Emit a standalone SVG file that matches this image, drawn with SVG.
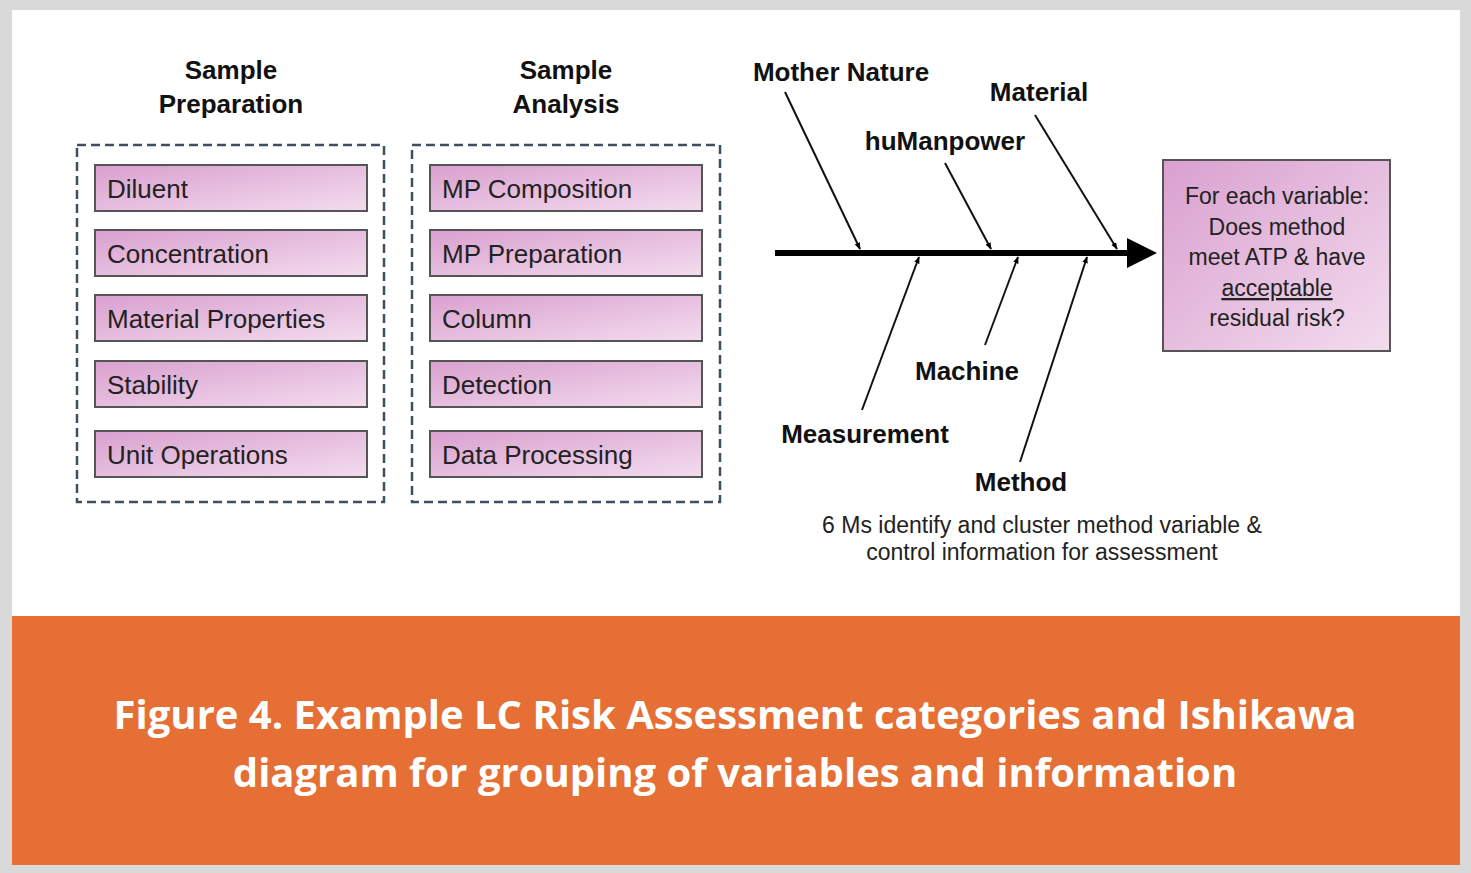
<svg xmlns="http://www.w3.org/2000/svg" width="1471" height="873" viewBox="0 0 1471 873">
<defs>
<linearGradient id="pg" x1="0" y1="0" x2="1" y2="1">
<stop offset="0" stop-color="#d9a0cf"/><stop offset="1" stop-color="#f3dcee"/>
</linearGradient>
<marker id="ah" viewBox="0 0 10 10" refX="9" refY="5" markerWidth="7" markerHeight="7" orient="auto" markerUnits="userSpaceOnUse">
<path d="M0,1 L10,5 L0,9 z" fill="#000"/>
</marker>
<style>
.box{fill:url(#pg);stroke:#555;stroke-width:2}
.dash{fill:none;stroke:#3f4f5f;stroke-width:2.5;stroke-dasharray:9,5}
.t{font-family:"Liberation Sans",Arial,sans-serif;font-size:26px;fill:#222}
.h{font-family:"Liberation Sans",Arial,sans-serif;font-size:26px;font-weight:bold;fill:#111;text-anchor:middle}
.bone{stroke:#111;stroke-width:2;marker-end:url(#ah)}
.c{font-family:"Liberation Sans",Arial,sans-serif;font-size:23px;fill:#222;text-anchor:middle}
</style>
</defs>
<rect width="1471" height="873" fill="#d9d9d9"/>
<rect x="12" y="10" width="1448" height="606" fill="#fff"/>
<rect x="12" y="616" width="1448" height="249" fill="#e56f35"/>
<g id="col1">
<text class="h" x="231" y="79">Sample</text><text class="h" x="231" y="113">Preparation</text>
<rect class="dash" x="77" y="145" width="307" height="357"/>
</g>
<g id="col2">
<text class="h" x="566" y="79">Sample</text><text class="h" x="566" y="113">Analysis</text>
<rect class="dash" x="412" y="145" width="308" height="357"/>
</g>
<g id="n1"><rect class="box" x="95" y="165" width="272" height="46"/><text class="t" x="107" y="198">Diluent</text></g>
<g id="n2"><rect class="box" x="95" y="230" width="272" height="46"/><text class="t" x="107" y="263">Concentration</text></g>
<g id="n3"><rect class="box" x="95" y="295" width="272" height="46"/><text class="t" x="107" y="328">Material Properties</text></g>
<g id="n4"><rect class="box" x="95" y="361" width="272" height="46"/><text class="t" x="107" y="394">Stability</text></g>
<g id="n5"><rect class="box" x="95" y="431" width="272" height="46"/><text class="t" x="107" y="464">Unit Operations</text></g>
<g id="n6"><rect class="box" x="430" y="165" width="272" height="46"/><text class="t" x="442" y="198">MP Composition</text></g>
<g id="n7"><rect class="box" x="430" y="230" width="272" height="46"/><text class="t" x="442" y="263">MP Preparation</text></g>
<g id="n8"><rect class="box" x="430" y="295" width="272" height="46"/><text class="t" x="442" y="328">Column</text></g>
<g id="n9"><rect class="box" x="430" y="361" width="272" height="46"/><text class="t" x="442" y="394">Detection</text></g>
<g id="n10"><rect class="box" x="430" y="431" width="272" height="46"/><text class="t" x="442" y="464">Data Processing</text></g>
<g id="connectors">
<line x1="775" y1="253" x2="1130" y2="253" stroke="#000" stroke-width="6"/>
<path d="M1127,238 L1157,253 L1127,268 z" fill="#000"/>
<line class="bone" x1="785" y1="92" x2="860" y2="249"/>
<line class="bone" x1="945" y1="163" x2="991" y2="249"/>
<line class="bone" x1="1035" y1="115" x2="1117" y2="249"/>
<line class="bone" x1="862" y1="410" x2="919" y2="257"/>
<line class="bone" x1="985" y1="345" x2="1018" y2="257"/>
<line class="bone" x1="1020" y1="462" x2="1087" y2="257"/>
</g>
<g id="labels">
<text class="h" x="841" y="81">Mother Nature</text>
<text class="h" x="1039" y="101">Material</text>
<text class="h" x="945" y="150">huManpower</text>
<text class="h" x="967" y="380">Machine</text>
<text class="h" x="865" y="443">Measurement</text>
<text class="h" x="1021" y="491">Method</text>
<text class="c" x="1042" y="533">6 Ms identify and cluster method variable &amp;</text>
<text class="c" x="1042" y="560">control information for assessment</text>
</g>
<g id="result">
<rect class="box" x="1163" y="160" width="227" height="191"/>
<text class="c" x="1277" y="204">For each variable:</text>
<text class="c" x="1277" y="235">Does method</text>
<text class="c" x="1277" y="265">meet ATP &amp; have</text>
<text class="c" x="1277" y="296" text-decoration="underline">acceptable</text>
<text class="c" x="1277" y="326">residual risk?</text>
</g>
<g id="caption">
<text x="735" y="729" text-anchor="middle" font-family="'Open Sans',sans-serif" font-weight="bold" font-size="40" fill="#fff">Figure 4. Example LC Risk Assessment categories and Ishikawa</text>
<text x="735" y="787" text-anchor="middle" font-family="'Open Sans',sans-serif" font-weight="bold" font-size="40" fill="#fff">diagram for grouping of variables and information</text>
</g>
</svg>
